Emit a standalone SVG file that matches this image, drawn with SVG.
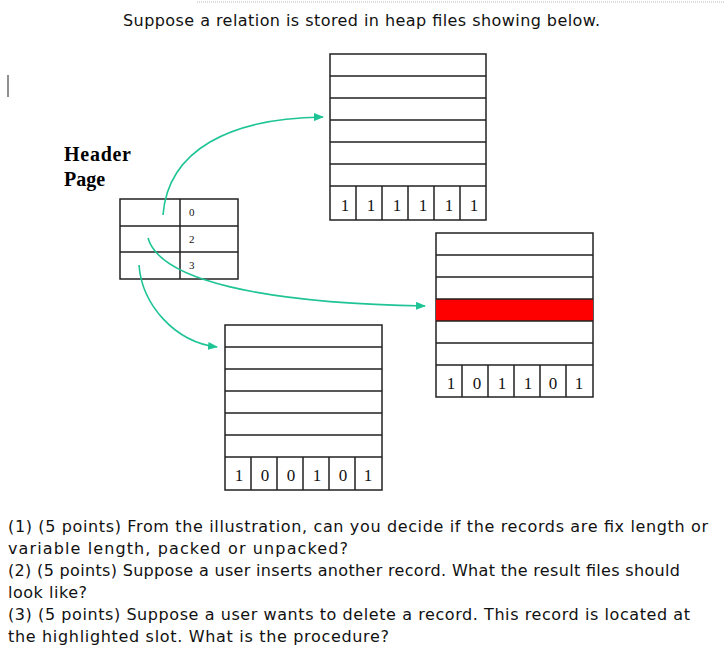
<svg xmlns="http://www.w3.org/2000/svg" width="725" height="666" viewBox="0 0 725 666">
<style>
.b{fill:#fff;stroke:#222;stroke-width:1.5}
.l{stroke:#222;stroke-width:1.5}
.t{font-family:"DejaVu Sans",sans-serif;font-size:16px;fill:#111}
.d{font-family:"Liberation Serif",serif;font-size:17px;fill:#111;text-anchor:middle}
.s{font-family:"Liberation Serif",serif;font-size:11px;fill:#111}
.c{fill:none;stroke:#1ec495;stroke-width:1.6;marker-end:url(#a)}
</style>
<defs><marker id="a" markerWidth="10" markerHeight="8" refX="9" refY="4" orient="auto" markerUnits="userSpaceOnUse"><path d="M0,0L10,4L0,8z" fill="#1ec495"/></marker></defs>
<rect width="725" height="666" fill="#fff"/>
<line x1="197" y1="2" x2="725" y2="2" stroke="#bbb" stroke-dasharray="1,1"/>
<line x1="8" y1="75" x2="8" y2="97" stroke="#222"/>
<text class="t" x="123" y="26" textLength="477">Suppose a relation is stored in heap files showing below.</text>
<g id="header">
<text x="64" y="161" font-family="Liberation Serif,serif" font-weight="bold" font-size="20" textLength="67">Header</text>
<text x="64" y="186" font-family="Liberation Serif,serif" font-weight="bold" font-size="20">Page</text>
<rect class="b" x="120" y="199" width="118" height="80"/>
<path class="l" d="M180,199V279M120,226H238M120,252H238"/>
<text class="s" x="189" y="216">0</text><text class="s" x="189" y="243">2</text><text class="s" x="189" y="269">3</text>
</g>
<g id="page1">
<rect class="b" x="330" y="54" width="156" height="166"/>
<path class="l" d="M330,76H486M330,98H486M330,120H486M330,142H486M330,164H486M330,186H486M356,186V220M382,186V220M408,186V220M434,186V220M460,186V220"/>
<g class="d"><text x="345" y="211">1</text><text x="371" y="211">1</text><text x="397" y="211">1</text><text x="423" y="211">1</text><text x="449" y="211">1</text><text x="474" y="211">1</text></g>
</g>
<g id="page2">
<rect class="b" x="436" y="233" width="157" height="164"/>
<rect x="436" y="299" width="157" height="22" fill="#f00"/>
<path class="l" d="M436,255H593M436,277H593M436,299H593M436,321H593M436,343H593M436,365H593M462,365V397M488,365V397M514,365V397M540,365V397M566,365V397"/>
<g class="d"><text x="451" y="389">1</text><text x="477" y="389">0</text><text x="502" y="389">1</text><text x="528" y="389">1</text><text x="553" y="389">0</text><text x="579" y="389">1</text></g>
</g>
<g id="page3">
<rect class="b" x="225" y="325" width="157" height="165"/>
<path class="l" d="M225,347H382M225,369H382M225,391H382M225,413H382M225,435H382M225,457H382M251,457V490M277,457V490M303,457V490M329,457V490M355,457V490"/>
<g class="d"><text x="239" y="481">1</text><text x="265" y="481">0</text><text x="291" y="481">0</text><text x="317" y="481">1</text><text x="343" y="481">0</text><text x="368" y="481">1</text></g>
</g>
<g id="connectors">
<path class="c" d="M163,215C168,150 230,118 323,117"/>
<path class="c" d="M148,238C160,280 260,303 425,306"/>
<path class="c" d="M139,265C142,305 175,342 217,347"/>
</g>
<g class="t">
<text x="8" y="532" textLength="700">(1) (5 points) From the illustration, can you decide if the records are fix length or</text>
<text x="8" y="554" textLength="340">variable length, packed or unpacked?</text>
<text x="8" y="576" textLength="672">(2) (5 points) Suppose a user inserts another record. What the result files should</text>
<text x="8" y="598" textLength="79">look like?</text>
<text x="8" y="620" textLength="682">(3) (5 points) Suppose a user wants to delete a record. This record is located at</text>
<text x="8" y="642" textLength="381">the highlighted slot. What is the procedure?</text>
</g>
</svg>
